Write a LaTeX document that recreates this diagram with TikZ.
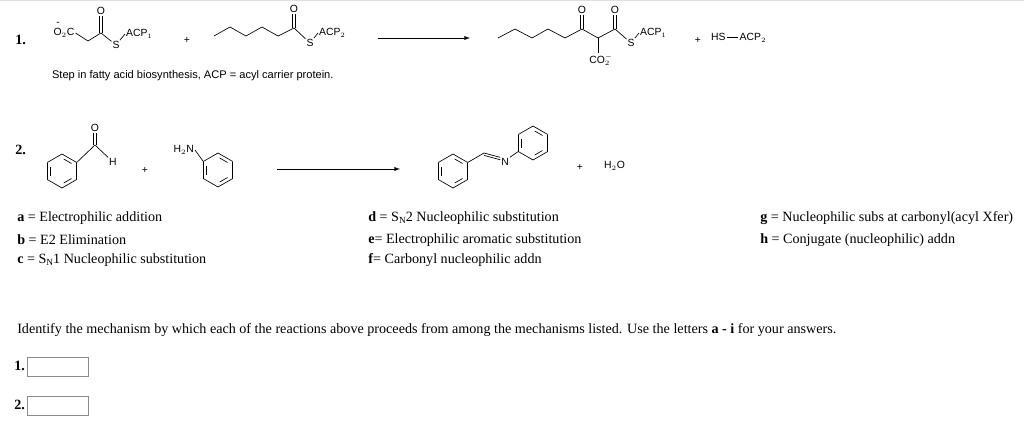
\documentclass[tikz,border=0pt]{standalone}
\usepackage{fontspec}
\setmainfont{Liberation Serif}
\newfontfamily\chemfont{Liberation Sans}
\usetikzlibrary{calc}

\tikzset{
  bond/.style={line width=0.5pt},
  atom/.style={font=\chemfont\fontsize{7.8}{8}\selectfont, inner sep=0.6pt},
  txt/.style={font=\fontsize{10.6}{12}\selectfont, anchor=west, inner sep=0pt},
  ansbox/.style={draw=black!45, line width=0.5pt}
}
% benzene ring, pointy top
\newcommand\benzring[2]{%
  \foreach \a in {30,90,...,330}
    \draw[bond] (#1,#2) +(\a:17) -- +(\a+60:17);
  \foreach \a in {30,150,270}
    \draw[bond, shorten <=1.5pt, shorten >=1.5pt] (#1,#2) +(\a:13) -- +(\a+60:13);
}
\newcommand\SN{S\raisebox{-0.35ex}{\scriptsize N}}

\begin{document}
\begin{tikzpicture}[x=0.75pt, y=-0.75pt]
  \useasboundingbox (0,0) rectangle (1024,429);
  \draw[black!12] (0,0.5) -- (1024,0.5);

  % reaction 1
  \node[txt, font=\bfseries\fontsize{10.6}{12}\selectfont] (n1) at (15,40) {1.};
  \node[atom] (o2c) at (64,33) {O$_2$C};
  \node[atom, inner sep=0pt] (neg) at (58,24) {-};
  \coordinate (m1) at (88,41);
  \coordinate (c1) at (101,33);
  \node[atom] (o1) at (101,11) {O};
  \node[atom] (s1) at (116,45) {S};
  \node[atom, anchor=west] (acp1) at (125,34) {ACP$_1$};
  \draw[bond] (o2c.east) -- (m1) -- (c1) -- (s1);
  \draw[bond] ([xshift=-1.3pt]c1) -- ([xshift=-1.3pt]o1.south);
  \draw[bond] ([xshift=1.3pt]c1) -- ([xshift=1.3pt]o1.south);
  \draw[bond] (s1) -- (acp1.west);
  \node[atom] (p1) at (187,40) {+};

  \coordinate (a1) at (214,36);
  \coordinate (a2) at (230,27);
  \coordinate (a3) at (246,36);
  \coordinate (a4) at (262,27);
  \coordinate (a5) at (278,36);
  \coordinate (c2) at (294,28);
  \node[atom] (o2) at (294,9) {O};
  \node[atom] (s2) at (310,43) {S};
  \node[atom, anchor=west] (acp2) at (318,33) {ACP$_2$};
  \draw[bond] (a1) -- (a2) -- (a3) -- (a4) -- (a5) -- (c2) -- (s2);
  \draw[bond] ([xshift=-1.3pt]c2) -- ([xshift=-1.3pt]o2.south);
  \draw[bond] ([xshift=1.3pt]c2) -- ([xshift=1.3pt]o2.south);
  \draw[bond] (s2) -- (acp2.west);

  \coordinate (r1s) at (378,38);
  \coordinate (r1e) at (470,38);
  \draw[bond, -latex] (r1s) -- (r1e);

  \coordinate (b1) at (498,38);
  \coordinate (b2) at (515,29);
  \coordinate (b3) at (532,38);
  \coordinate (b4) at (548,29);
  \coordinate (b5) at (565,38);
  \coordinate (c3) at (582,29);
  \node[atom] (o3) at (582,10) {O};
  \coordinate (al) at (598,38);
  \coordinate (c4) at (615,29);
  \node[atom] (o4) at (615,10) {O};
  \node[atom] (s3) at (631,43) {S};
  \node[atom, anchor=west] (acp3) at (639,33) {ACP$_1$};
  \node[atom] (co2) at (601,60) {CO$_2^-$};
  \draw[bond] (b1) -- (b2) -- (b3) -- (b4) -- (b5) -- (c3) -- (al) -- (c4) -- (s3);
  \draw[bond] (al) -- (co2.north -| al);
  \foreach \c/\o in {c3/o3, c4/o4} {
    \draw[bond] ([xshift=-1.3pt]\c) -- ([xshift=-1.3pt]\o.south);
    \draw[bond] ([xshift=1.3pt]\c) -- ([xshift=1.3pt]\o.south);
  }
  \draw[bond] (s3) -- (acp3.west);
  \node[atom] (p2) at (698,40) {+};
  \node[atom, anchor=west] (hs) at (710,38) {HS\,\rule[0.6ex]{8pt}{0.4pt}\,ACP$_2$};

  \node[atom, anchor=west, font=\chemfont\fontsize{8.3}{9}\selectfont] (cap) at (51,76)
    {Step in fatty acid biosynthesis, ACP = acyl carrier protein.};

  % reaction 2
  \node[txt, font=\bfseries\fontsize{10.6}{12}\selectfont] (n2) at (15,150) {2.};
  \benzring{62}{171}
  \coordinate (ald) at (95,145);
  \node[atom] (o5) at (95,128) {O};
  \node[atom] (h5) at (113,162) {H};
  \draw[bond] (76.7,162.5) -- (ald) -- (h5);
  \draw[bond] ([xshift=-1.3pt]ald) -- ([xshift=-1.3pt]o5.south);
  \draw[bond] ([xshift=1.3pt]ald) -- ([xshift=1.3pt]o5.south);
  \node[atom] (p3) at (145,170) {+};
  \benzring{218}{170}
  \node[atom, anchor=east] (nh2) at (195,150) {H$_2$N};
  \draw[bond] (nh2.east) -- (203.3,161.5);

  \coordinate (r2s) at (277,169);
  \coordinate (r2e) at (400,169);
  \draw[bond, -latex] (r2s) -- (r2e);

  \benzring{453}{171}
  \coordinate (cim) at (484,153);
  \node[atom] (nim) at (505,162) {N};
  \benzring{533}{143}
  \draw[bond] (467.7,162.5) -- (cim) -- (nim.north west);
  \draw[bond] ([yshift=-1.8pt]cim) -- ([yshift=-1.8pt]nim.north west);
  \draw[bond] (nim.north east) -- (518.3,151.5);
  \node[atom] (p4) at (580,167) {+};
  \node[atom, anchor=west] (h2o) at (603,166) {H$_2$O};

  % mechanisms
  \node[txt] (ma) at (17,218) {\textbf{a} = Electrophilic addition};
  \node[txt] (mb) at (17,240) {\textbf{b} = E2 Elimination};
  \node[txt] (mc) at (17,260) {\textbf{c} = \SN1 Nucleophilic substitution};
  \node[txt] (md) at (368,218) {\textbf{d} = \SN2 Nucleophilic substitution};
  \node[txt] (me) at (368,240) {\textbf{e}= Electrophilic aromatic substitution};
  \node[txt] (mf) at (368,260) {\textbf{f}= Carbonyl nucleophilic addn};
  \node[txt] (mg) at (760,218) {\textbf{g} = Nucleophilic subs at carbonyl(acyl Xfer)};
  \node[txt] (mh) at (760,240) {\textbf{h} = Conjugate (nucleophilic) addn};

  \node[txt] (q) at (17,330) {Identify the mechanism by which each of the reactions above proceeds from among the mechanisms listed. Use the letters \textbf{a - i} for your answers.};

  \node[txt] (l1) at (14,366) {\textbf{1.}};
  \draw[ansbox] (27,357) rectangle (88,376);
  \node[txt] (l2) at (14,405) {\textbf{2.}};
  \draw[ansbox] (27,396) rectangle (88,415);
\end{tikzpicture}
\end{document}
